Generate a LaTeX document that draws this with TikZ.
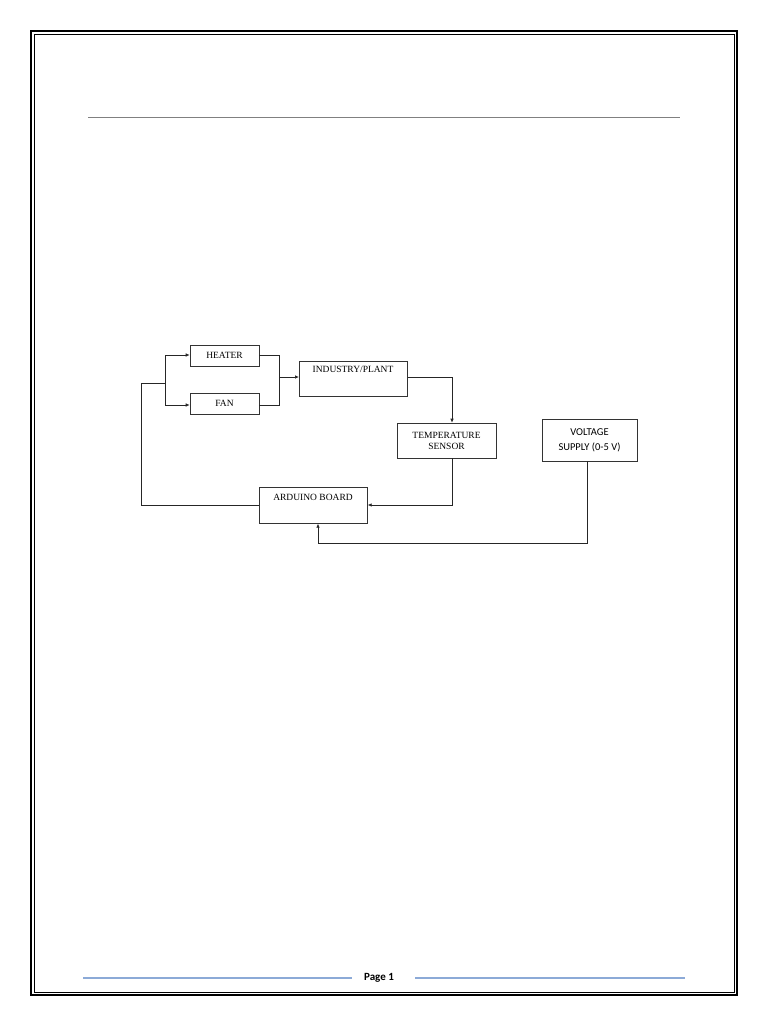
\documentclass[tikz,border=0pt]{standalone}
\usepackage{fontspec}
\setmainfont{Liberation Serif}
\newfontfamily\carlitofont{Carlito}
\usetikzlibrary{arrows.meta}
\definecolor{footblue}{RGB}{140,170,215}
\begin{document}
\begin{tikzpicture}[x=1pt,y=-1pt,
  blk/.style={draw=black!80,line width=0.6pt,inner sep=0pt,font=\fontsize{9.5}{11}\selectfont,align=center},
  wire/.style={draw=black!85,line width=0.7pt},
  arr/.style={wire,-{Latex[length=4pt,width=3.5pt]}}]
\useasboundingbox (0,0) rectangle (768,1024);
\fill[white] (0,0) rectangle (768,1024);
\draw[line width=1.4pt] (31,31) rectangle (737,995);
\draw[line width=0.5pt] (34,34) rectangle (734,992);
\draw[gray,line width=0.6pt] (88,117) -- (680,117);
\node (pg) at (379,978) {\carlitofont\bfseries\fontsize{11}{13}\selectfont Page 1};
\coordinate (fl1) at (83,978); \coordinate (fr2) at (685,978);
\coordinate (fl2) at (352,978); \coordinate (fr1) at (415,978);
\draw[footblue,line width=1.2pt] (fl1) -- (fl2);
\draw[footblue,line width=1.2pt] (fr1) -- (fr2);
\node[blk,minimum width=69pt,minimum height=21pt] (heater) at (224.5,355.5) {HEATER};
\node[blk,minimum width=69pt,minimum height=21pt] (fan) at (224.5,403.5) {FAN};
\node[blk,minimum width=108pt,minimum height=35pt,anchor=north west] (ind) at (299,361) {};
\node[font=\fontsize{9.5}{11}\selectfont] at (353,369) {INDUSTRY/PLANT};
\node[blk,minimum width=99pt,minimum height=35pt] (temp) at (446.5,440.5) {TEMPERATURE\\SENSOR};
\node[blk,minimum width=95pt,minimum height=42pt,font=\carlitofont\fontsize{10.5}{15}\selectfont] (volt) at (589.5,440) {VOLTAGE\\SUPPLY (0-5 V)};
\node[blk,minimum width=108pt,minimum height=36pt,anchor=north west] (ard) at (259,487) {};
\node[font=\fontsize{9.5}{11}\selectfont] at (313,497) {ARDUINO BOARD};
\coordinate (a1) at (141,505); \coordinate (a2) at (141,383); \coordinate (a3) at (165,383);
\coordinate (b1) at (165,355); \coordinate (b2) at (165,405);
\draw[wire] (ard.west |- a1) -- (a1) -- (a2) -- (a3);
\draw[arr] (b1) -- (heater.west |- b1);
\draw[arr] (b2) -- (fan.west |- b2);
\draw[wire] (b1) -- (b2);
\coordinate (m1) at (279,355); \coordinate (m2) at (279,405); \coordinate (m3) at (279,377);
\draw[wire] (heater.east |- m1) -- (m1) -- (m2) -- (fan.east |- m2);
\draw[arr] (m3) -- (ind.west |- m3);
\coordinate (i1) at (452,377);
\draw[arr] (ind.east |- i1) -- (i1) -- (temp.north -| i1);
\coordinate (t1) at (452,505);
\draw[arr] (temp.south -| t1) -- (t1) -- (ard.east |- t1);
\coordinate (v1) at (587,543); \coordinate (v2) at (318,543);
\draw[arr] (volt.south -| v1) -- (v1) -- (v2) -- (ard.south -| v2);
\end{tikzpicture}
\end{document}
